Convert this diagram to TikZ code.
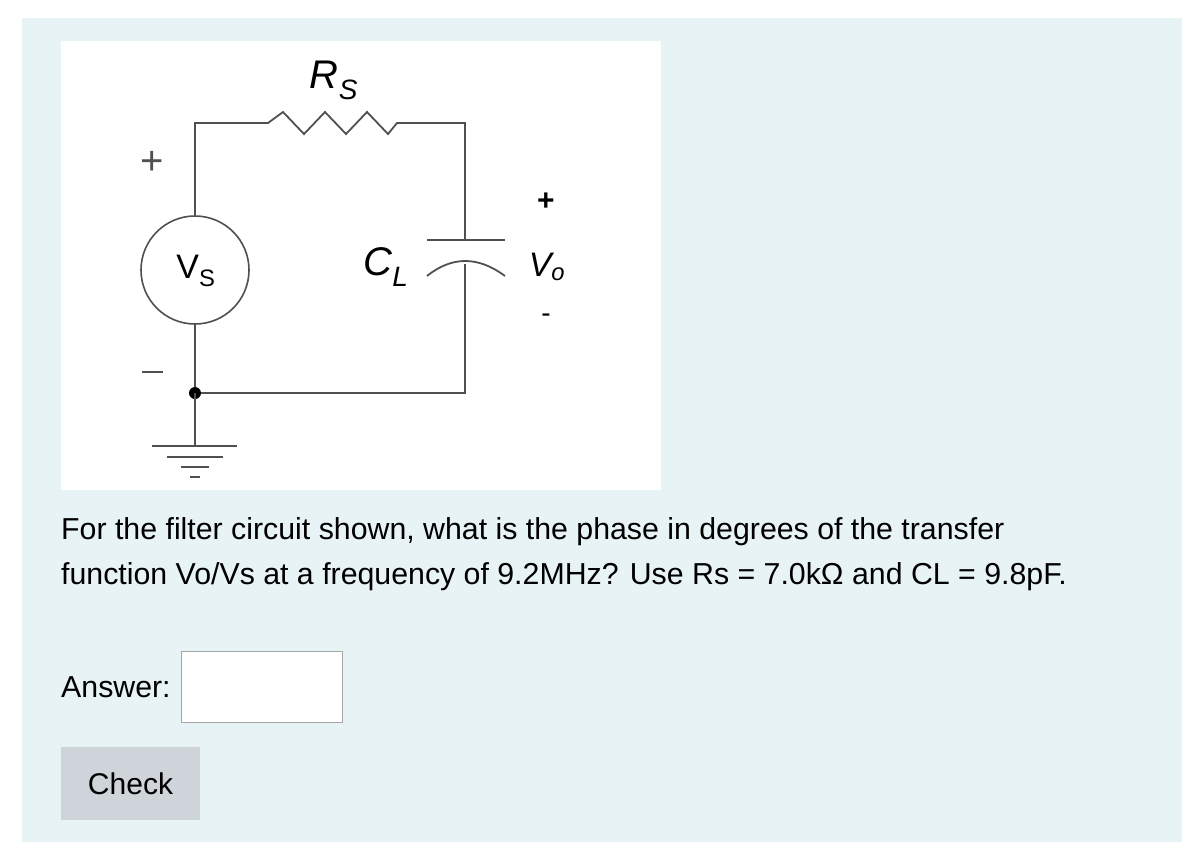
\documentclass[tikz,border=0pt]{standalone}
\usepackage{fontspec}
\setmainfont{Liberation Sans}
\definecolor{panel}{HTML}{E7F3F5}
\definecolor{btn}{HTML}{CED4DA}
\definecolor{wire}{HTML}{505050}
\begin{document}
\begin{tikzpicture}[x=1pt,y=-1pt,
  w/.style={draw=wire,line width=1.8pt},
  txt/.style={anchor=base west,inner sep=0,font=\fontsize{30.3}{34}\selectfont},
  lab/.style={inner sep=0,font=\fontsize{34}{38}\selectfont}]
\useasboundingbox (0,0) rectangle (1192,852);
\fill[white] (0,0) rectangle (1192,852);
\fill[panel] (22,18) rectangle (1182,842);
\fill[white] (61,41) rectangle (661,490);
% coordinates
\coordinate (tl) at (195,123); \coordinate (tr) at (465,123);
\coordinate (bl) at (195,393); \coordinate (br) at (465,393);
\coordinate (r1) at (262,123); \coordinate (r2) at (400,123);
\coordinate (c1) at (465,240); \coordinate (c2) at (465,264);
\node[circle,draw=wire,line width=1.6pt,minimum size=108pt,inner sep=0] (vs) at (195,270) {};
\node[lab] at (196,271) {V\textsubscript{S}};
\draw[w] (vs.north) -- (tl) -- (r1) -- (268,123) -- (283,112) -- (304,134) -- (325,112) -- (346,134) -- (367,112) -- (388,134) -- (397,123) -- (tr) -- (c1);
\draw[w] (427,240) -- (505,240);
\draw[w] (427,276) .. controls (452,256) and (478,256) .. (505,276);
\draw[w] (c2) -- (br) -- (bl) -- (vs.south);
\fill[black] (bl) circle (6);
\coordinate (g) at (195,446);
\draw[w] (bl) -- (g);
\draw[w] (152,446) -- (237,446);
\draw[w] (167,457) -- (223,457);
\draw[w] (181,467) -- (209,467);
\draw[w] (190,477) -- (200,477);
\node[lab,font=\fontsize{40}{44}\selectfont\itshape] (rs) at (334,80) {R\textsubscript{S}};
\node[lab,font=\fontsize{40}{44}\selectfont\itshape] (cl) at (386,267) {C\textsubscript{L}};
\node[lab,font=\fontsize{34}{38}\selectfont\itshape] (vo) at (547,267) {V\textsubscript{o}};
\node[lab,font=\fontsize{30}{32}\selectfont\bfseries] at (546,202) {+};
\node[lab,font=\fontsize{28}{30}\selectfont] at (546,318) {-};
\node[lab,font=\fontsize{40}{44}\selectfont\color{wire}] at (152,163) {+};
\draw[wire,line width=1.8pt] (142,372) -- (163,372);
\node[txt] at (61,539) {For the filter circuit shown, what is the phase in degrees of the transfer};
\node[txt] at (61,584) {function Vo/Vs at a frequency of 9.2MHz? Use Rs = 7.0kΩ and CL = 9.8pF.};
\node[txt] at (61,697) {Answer:};
\draw[fill=white,draw=gray!70,line width=1pt] (181,651) rectangle (342,722);
\fill[btn] (61,747) rectangle (200,820);
\node[inner sep=0,font=\fontsize{30}{34}\selectfont] (chk) at (130.5,784) {Check};
\end{tikzpicture}
\end{document}
